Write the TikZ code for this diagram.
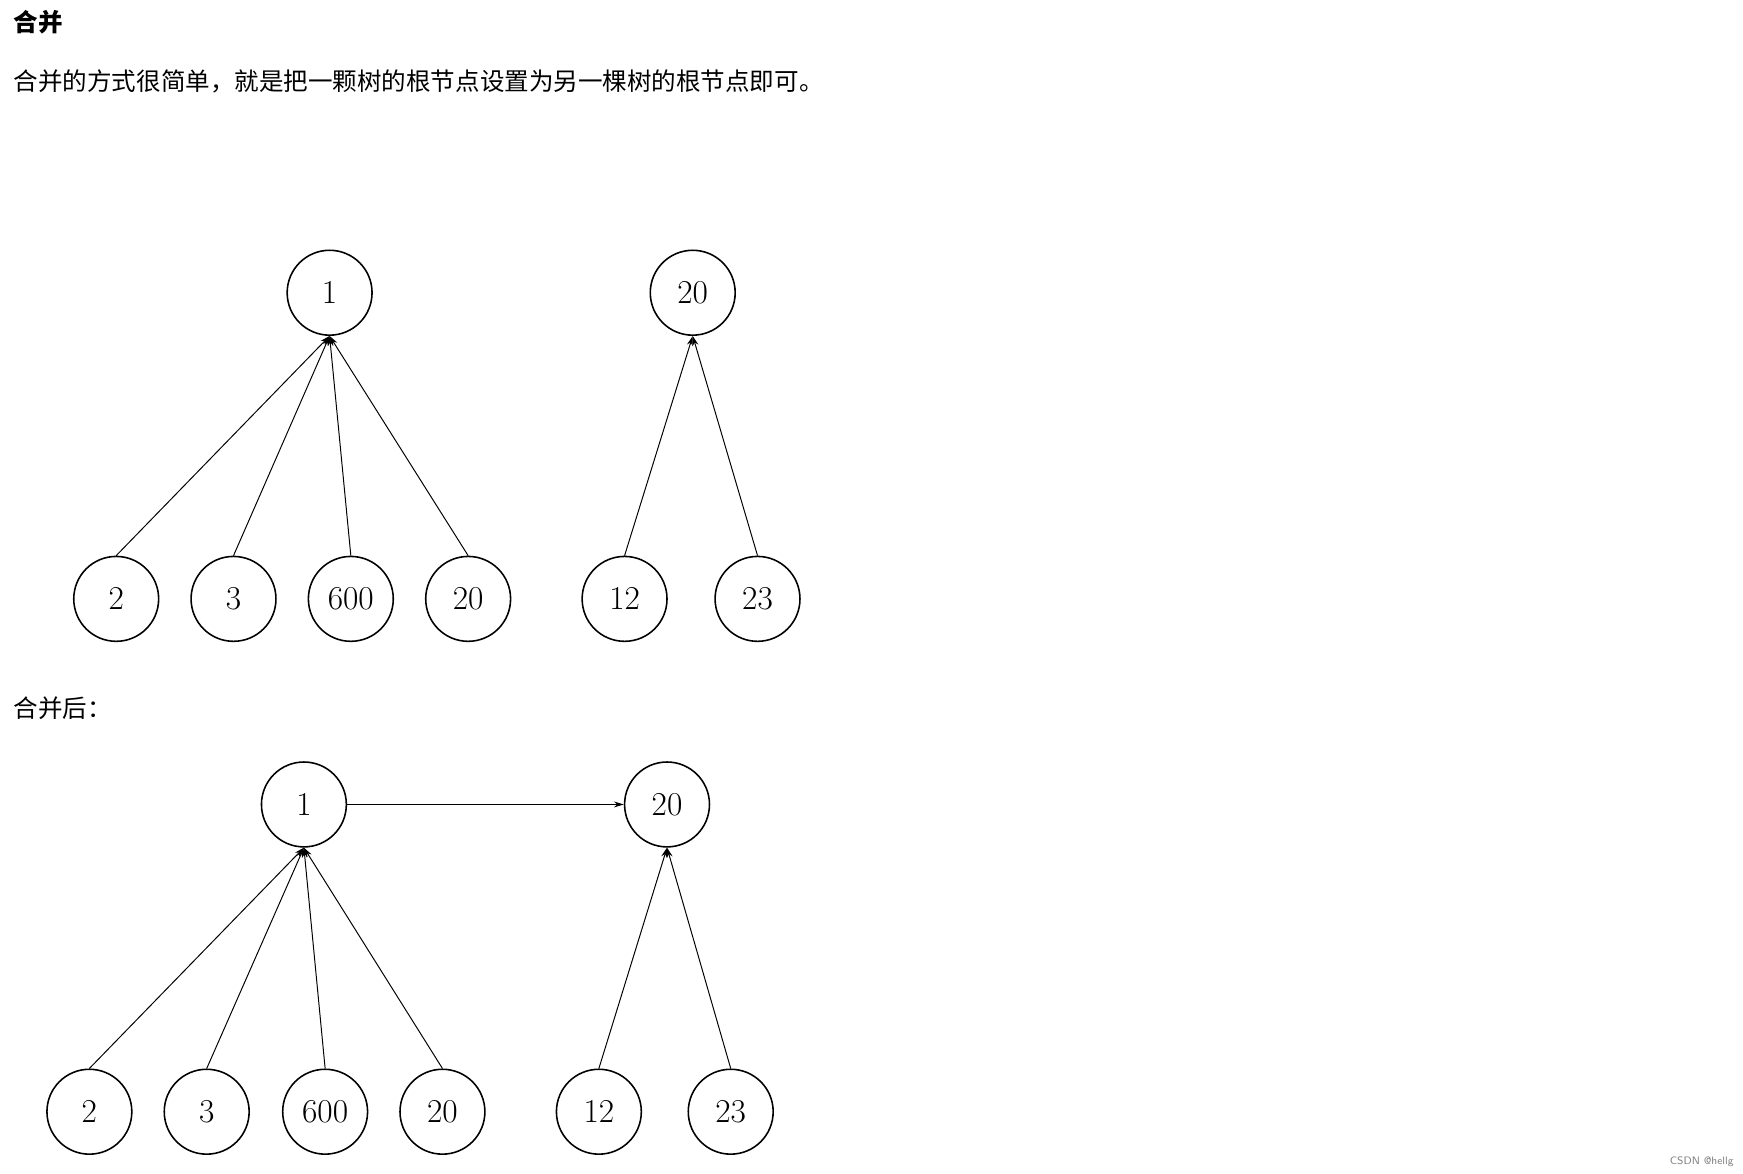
\documentclass[tikz,border=0pt]{standalone}
\usepackage{fontspec}
\newfontfamily\cjk{Noto Sans CJK SC}
\usetikzlibrary{arrows.meta}
\begin{document}
\begin{tikzpicture}[x=0.02cm,y=-0.02cm,
  nd/.style={circle,draw,line width=0.8pt,minimum size=1.52cm,inner sep=0pt,font=\fontsize{17}{17}\selectfont},
  ed/.style={line width=0.5pt,-{Stealth[length=5pt,width=3pt]}},
  tx/.style={anchor=west,inner sep=0pt,font=\cjk\fontsize{12.5}{14}\selectfont}]
\useasboundingbox (0,0) rectangle (1560,1050);
\node[tx,font=\cjk\bfseries\fontsize{12.5}{14}\selectfont] (t1) at (12,20) {合并};
\node[tx] (t2) at (12,73) {合并的方式很简单，就是把一颗树的根节点设置为另一棵树的根节点即可。};
\node[tx] (t3) at (12,634) {合并后：};
\node[anchor=east,inner sep=0pt,text=gray,font=\fontsize{5.5}{6}\selectfont\sffamily] (wm) at (1552,1040) {CSDN @hellg};
% upper
\node[nd] (a) at (295,262) {1};
\foreach \n/\x/\t in {a2/104/2,a3/209/3,a6/314/600,a20/419/20}{\node[nd] (\n) at (\x,536) {\t}; \draw[ed] (\n.north) -- (a.south);}
\node[nd] (b) at (620,262) {20};
\foreach \n/\x/\t in {b12/559/12,b23/678/23}{\node[nd] (\n) at (\x,536) {\t}; \draw[ed] (\n.north) -- (b.south);}
% lower
\node[nd] (c) at (272,720) {1};
\foreach \n/\x/\t in {c2/80/2,c3/185/3,c6/291/600,c20/396/20}{\node[nd] (\n) at (\x,995) {\t}; \draw[ed] (\n.north) -- (c.south);}
\node[nd] (d) at (597,720) {20};
\foreach \n/\x/\t in {d12/536/12,d23/654/23}{\node[nd] (\n) at (\x,995) {\t}; \draw[ed] (\n.north) -- (d.south);}
\draw[ed] (c) -- (d);
\end{tikzpicture}
\end{document}
